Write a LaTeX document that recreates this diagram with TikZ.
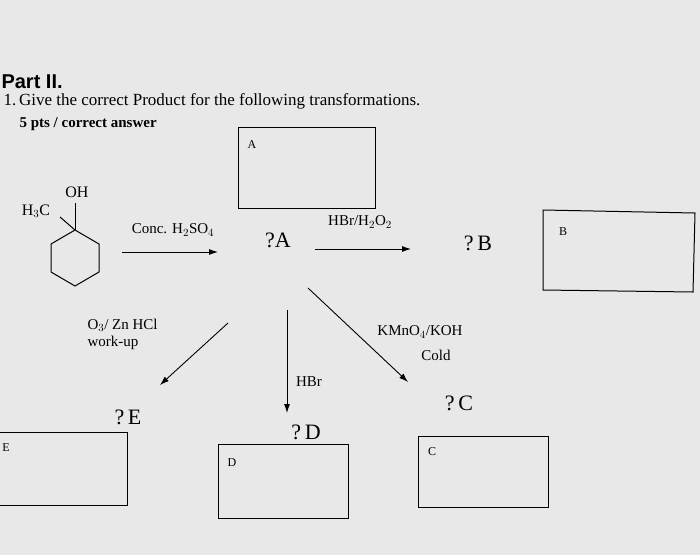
\documentclass[tikz,border=0pt]{standalone}
\usepackage{fontspec}
\usetikzlibrary{arrows.meta}
\setmainfont{Liberation Serif}
\newfontfamily\hdr{Liberation Sans}
\begin{document}
\begin{tikzpicture}[x=1pt,y=-1pt,
  box/.style={draw,line width=1pt},
  arr/.style={-{Latex[length=9pt,width=6pt]},line width=0.9pt},
  lab/.style={font=\fontsize{15}{16}\selectfont},
  big/.style={font=\fontsize{22}{24}\selectfont},
  bl/.style={font=\fontsize{12}{14}\selectfont}]
\fill[gray!18] (0,0) rectangle (700,555);
\useasboundingbox (0,0) rectangle (700,555);
\node[anchor=west,font=\hdr\bfseries\fontsize{20}{22}\selectfont] (p) at (-2,82) {Part II.};
\node[anchor=west,font=\fontsize{17}{19}\selectfont] (q) at (0,101) {1.\,Give the correct Product for the following transformations.};
\node[anchor=west,font=\bfseries\fontsize{15}{17}\selectfont] (s) at (16,124) {5 pts / correct answer};
% boxes
\draw[box] (238,127) rectangle (375,208); \node[bl] (la) at (252,145) {A};
\draw[box] (543,210) -- (695,213) -- (693,292) -- (543,290) -- cycle; \node[bl] (lb) at (563,232) {B};
\draw[box] (0,432) -- (127,432) -- (127,505) -- (0,505); \node[bl] (le) at (6,448) {E};
\draw[box] (218,444) rectangle (348,518); \node[bl] (ld) at (232,463) {D};
\draw[box] (418,436) rectangle (548,507); \node[bl] (lc) at (432,452) {C};
% molecule
\draw[line width=1pt] (75,230) -- (99,244) -- (99,272) -- (75,286) -- (51,272) -- (51,244) -- cycle;
\draw[line width=1pt] (75,230) -- (75,203);
\draw[line width=1pt] (75,230) -- (60,217);
\node[lab,font=\fontsize{16}{18}\selectfont] (oh) at (77,192) {OH};
\node[lab,font=\fontsize{16}{18}\selectfont] (me) at (36,211) {H$_3$C};
% reagents
\node[lab] (r1) at (173,230) {Conc. H$_2$SO$_4$};
\coordinate (a1s) at (122,252); \coordinate (a1e) at (218,252);
\draw[arr] (a1s) -- (a1e);
\node[big] (qa) at (278,240) {?A};
\node[lab] (r2) at (360,222) {HBr/H$_2$O$_2$};
\coordinate (a2s) at (315,249); \coordinate (a2e) at (411,249);
\draw[arr] (a2s) -- (a2e);
\node[big] (qb) at (478,243) {?\,B};
\node[lab,anchor=west] (r3) at (84,325) {O$_3$/ Zn HCl};
\node[lab,anchor=west] (r3b) at (84,343) {work-up};
\coordinate (a3s) at (228,323); \coordinate (a3e) at (160,385);
\draw[arr] (a3s) -- (a3e);
\node[big] (qe) at (128,417) {?\,E};
\coordinate (a4s) at (287,310); \coordinate (a4e) at (287,413);
\draw[arr] (a4s) -- (a4e);
\node[lab] (r4) at (309,382) {HBr};
\node[big] (qd) at (306,432) {?\,D};
\coordinate (a5s) at (308,288); \coordinate (a5e) at (408,382);
\draw[arr] (a5s) -- (a5e);
\node[lab] (r5) at (420,332) {KMnO$_4$/KOH};
\node[lab] (r6) at (436,355) {Cold};
\node[big] (qc) at (459,403) {?\,C};
\end{tikzpicture}
\end{document}
